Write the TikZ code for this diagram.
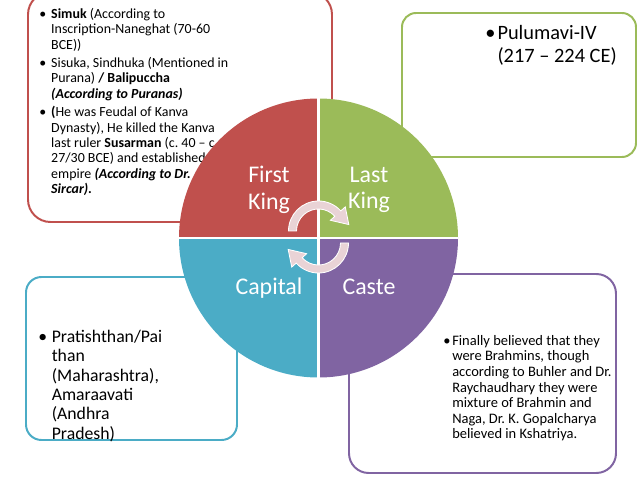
\documentclass[tikz,border=0pt]{standalone}
\usepackage{fontspec}
\setmainfont{Carlito}
\frenchspacing
\definecolor{kred}{HTML}{C0504D}
\definecolor{kgreen}{HTML}{9BBB59}
\definecolor{kblue}{HTML}{4BACC6}
\definecolor{kpurple}{HTML}{8064A2}
\definecolor{karrow}{HTML}{E9D3D6}
\newcommand{\bul}[1]{\makebox[#1][l]{\textbullet}}
\tikzset{
  infobox/.style={line width=1.4pt, fill=white},
  itemtext/.style={anchor=north west, inner sep=0pt},
  quadtext/.style={text=white, align=center, inner sep=0pt, font=\fontsize{17}{19}\selectfont},
  turnarrow/.style={fill=karrow, draw=white, line width=0.6pt}
}
\begin{document}
\begin{tikzpicture}[x=0.025cm, y=-0.025cm]
  \useasboundingbox (0,0) rectangle (638,478);
  % boxes behind the circle
  \draw[infobox, draw=kred, rounded corners=16pt] (28,-8) rectangle (332,222);
  \draw[infobox, draw=kgreen, rounded corners=10pt] (402,13) rectangle (636,157);
  \draw[infobox, draw=kblue, rounded corners=11pt] (26,277) rectangle (237,440);
  \draw[infobox, draw=kpurple, rounded corners=14pt] (349,274) rectangle (616,473);
  \node[itemtext, font=\fontsize{9.9}{11}\selectfont] (firsttext) at (39,7)
    {\begin{tabular}{@{}l@{}l@{}}
      \bul{8.5pt} & \textbf{Simuk} (According to\\
       & Inscription-Naneghat (70-60\\
       & BCE))\\[2pt]
      \bul{8.5pt} & Sisuka, Sindhuka (Mentioned in\\
       & Purana) \textbf{/ Balipuccha}\\
       & \textbf{\textit{(According to Puranas)}}\\[2pt]
      \bul{8.5pt} & \textbf{(}He was Feudal of Kanva\\
       & Dynasty), He killed the Kanva\\
       & last ruler \textbf{Susarman} (c. 40 -- c.\\
       & 27/30 BCE) and established\\
       & empire \textbf{\textit{(According to Dr.}}\\
       & \textbf{\textit{Sircar).}}
    \end{tabular}};
  \node[itemtext, font=\fontsize{14.5}{17}\selectfont] (lasttext) at (485,22)
    {\begin{tabular}{@{}l@{}l@{}}
      \bul{8.7pt} & Pulumavi-IV\\
       & (217 -- 224 CE)
    \end{tabular}};
  \node[itemtext, font=\fontsize{12.6}{13.8}\selectfont] (capitaltext) at (38,328.5)
    {\begin{tabular}{@{}l@{}l@{}}
      \bul{9.6pt} & Pratishthan/Pai\\
       & than\\
       & (Maharashtra),\\
       & Amaraavati\\
       & (Andhra\\
       & Pradesh)
    \end{tabular}};
  \node[itemtext, font=\fontsize{10.3}{11.1}\selectfont] (castetext) at (443,334)
    {\begin{tabular}{@{}l@{}l@{}}
      \bul{6.4pt} & Finally believed that they\\
       & were Brahmins, though\\
       & according to Buhler and Dr.\\
       & Raychaudhary they were\\
       & mixture of Brahmin and\\
       & Naga, Dr. K. Gopalcharya\\
       & believed in Kshatriya.
    \end{tabular}};
  % the circle
  \begin{scope}[shift={(318.5,238)}, x=0.025cm, y=0.025cm]
    \fill[kred] (0,0) -- (180:139.5) arc[start angle=180, end angle=90, radius=139.5] -- cycle;
    \fill[kgreen] (0,0) -- (90:139.5) arc[start angle=90, end angle=0, radius=139.5] -- cycle;
    \fill[kpurple] (0,0) -- (0:139.5) arc[start angle=0, end angle=-90, radius=139.5] -- cycle;
    \fill[kblue] (0,0) -- (-90:139.5) arc[start angle=-90, end angle=-180, radius=139.5] -- cycle;
    \draw[white, line width=1.5pt] (180:139.5) -- (0:139.5) (90:139.5) -- (-90:139.5);
    \foreach \rot/\dy in {0/7, 180/-5}
      \filldraw[turnarrow, shift={(0,\dy)}, rotate=\rot]
        (180:22) -- (180:30) arc[start angle=180, end angle=42, radius=30]
        -- (42:36) -- (12:31) -- (42:16) -- (42:22)
        arc[start angle=42, end angle=180, radius=22] -- cycle;
  \end{scope}
  \node[quadtext] (first) at (269,190) {First\\King};
  \node[quadtext] (last) at (369,190) {Last\\King};
  \node[quadtext, anchor=base] (capital) at (269,295) {Capital};
  \node[quadtext, anchor=base] (caste) at (369,295) {Caste};
\end{tikzpicture}
\end{document}
